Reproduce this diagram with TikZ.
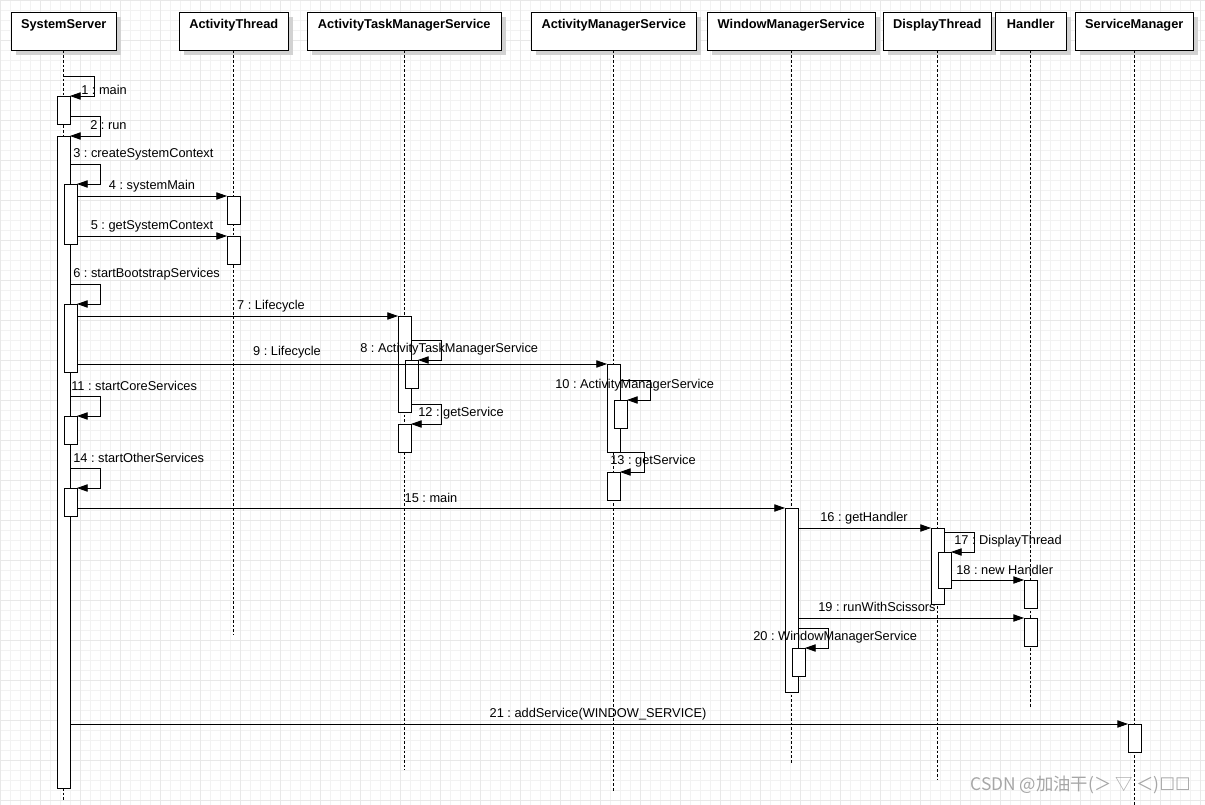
\documentclass[tikz,border=0pt]{standalone}
\usepackage{fontspec}
\setmainfont{Liberation Sans}
\newfontfamily\cjk{Noto Sans CJK SC}
\newfontfamily\dv{DejaVu Sans}
\usetikzlibrary{arrows.meta}
\frenchspacing
\begin{document}
\begin{tikzpicture}[x=0.75pt,y=-0.75pt,
  font=\fontsize{9.6}{11}\selectfont,
  obj/.style={draw,fill=white,font=\fontsize{9.6}{11}\selectfont\bfseries,minimum height=28.5pt,anchor=north west,inner sep=0pt,text depth=11pt},
  life/.style={dash pattern=on 2pt off 1.5pt,line width=0.5pt},
  act/.style={draw,fill=white,line width=0.5pt},
  msg/.style={-{Triangle[length=8pt,width=5.5pt]},line width=0.6pt},
  lbl/.style={inner sep=0pt}]
\useasboundingbox (0,0) rectangle (1205,805);
\fill[white] (0,0) rectangle (1205,805);
\draw[gray!10,step=7.5pt,line width=0.3pt] (0,0) grid (1205,805);
\draw[gray!18,step=30pt,line width=0.4pt] (0,0) grid (1205,805);
\foreach \n/\l/\r/\t in {ss/11/116/SystemServer,at/179/288/ActivityThread,atms/307/501/ActivityTaskManagerService,ams/531/696/ActivityManagerService,wms/707/875/WindowManagerService,dt/883/991/DisplayThread,h/995/1066/Handler,sm/1075/1193/ServiceManager}{
  \fill[gray!35] (\l+5,17) rectangle (\r+5,55);
  \node[obj,minimum width=(\r-\l)*0.75pt] (\n) at (\l,12) {\t};
}
\foreach \n/\e in {ss/800,at/635,atms/770,ams/792,wms/763,dt/780,h/708,sm/805}{
  \coordinate (\n e) at (\n.south |- 0,\e);
  \draw[life] (\n.south) -- (\n e);
}
\foreach \x/\a/\b in {57/96/124,57/136/788,64/184/244,64/304/372,64/416/444,64/488/516,
  227/196/224,227/236/264,398/316/412,405/360/388,398/424/452,
  607/364/452,614/400/428,607/472/500,785/508/692,792/648/676,
  931/528/604,938/552/588,1024/580/608,1024/618/646,1128/724/752}{
  \draw[act] (\x,\a) rectangle (\x+13,\b);
}
\foreach \xa/\ya/\xr/\yb/\xe in {64/76/94/96/70,70/116/100/136/70,70/164/100/184/77,70/284/100/304/77,
  411/340/441/360/418,620/380/650/400/627,70/396/100/416/77,411/404/441/424/411,
  620/452/644/472/620,70/468/100/488/77,944/532/974/552/951,798/628/828/648/805}{
  \draw[msg] (\xa,\ya) -- (\xr,\ya) -- (\xr,\yb) -- (\xe,\yb);
}
\foreach \xa/\y/\xb in {77/196/227,77/236/227,77/316/398,77/364/607,77/508/785,798/528/931,951/580/1024,798/618/1024,70/724/1128}{
  \draw[msg] (\xa,\y) -- (\xb,\y);
}
\foreach \x/\y/\t in {81/90/1 : main,90/125/2 : run,73/154/3 : createSystemContext,73/274/6 : startBootstrapServices,
  360/349/8 : ActivityTaskManagerService,555/385/10 : ActivityManagerService,71/386/11 : startCoreServices,
  418/413/12 : getService,610/461/13 : getService,73/458/14 : startOtherServices,954/541/17 : DisplayThread,
  956/570/18 : new Handler,818/607/19 : runWithScissors,753/637/20 : WindowManagerService}{
  \node[lbl,anchor=west] at (\x,\y) {\t};
}
\foreach \x/\y/\t in {152/186/4 : systemMain,152/226/5 : getSystemContext,271/306/7 : Lifecycle,287/352/9 : Lifecycle,
  431/498/15 : main,864/518/16 : getHandler,598/714/21 : addService(WINDOW\_SERVICE)}{
  \node[lbl] at (\x,\y) {\t};
}
\node[lbl,anchor=east,text=gray!70,font=\cjk\fontsize{13}{14}\selectfont] at (1191,785) {CSDN @加油干(＞ ▽ ＜){\dv ☐☐}};
\end{tikzpicture}
\end{document}
